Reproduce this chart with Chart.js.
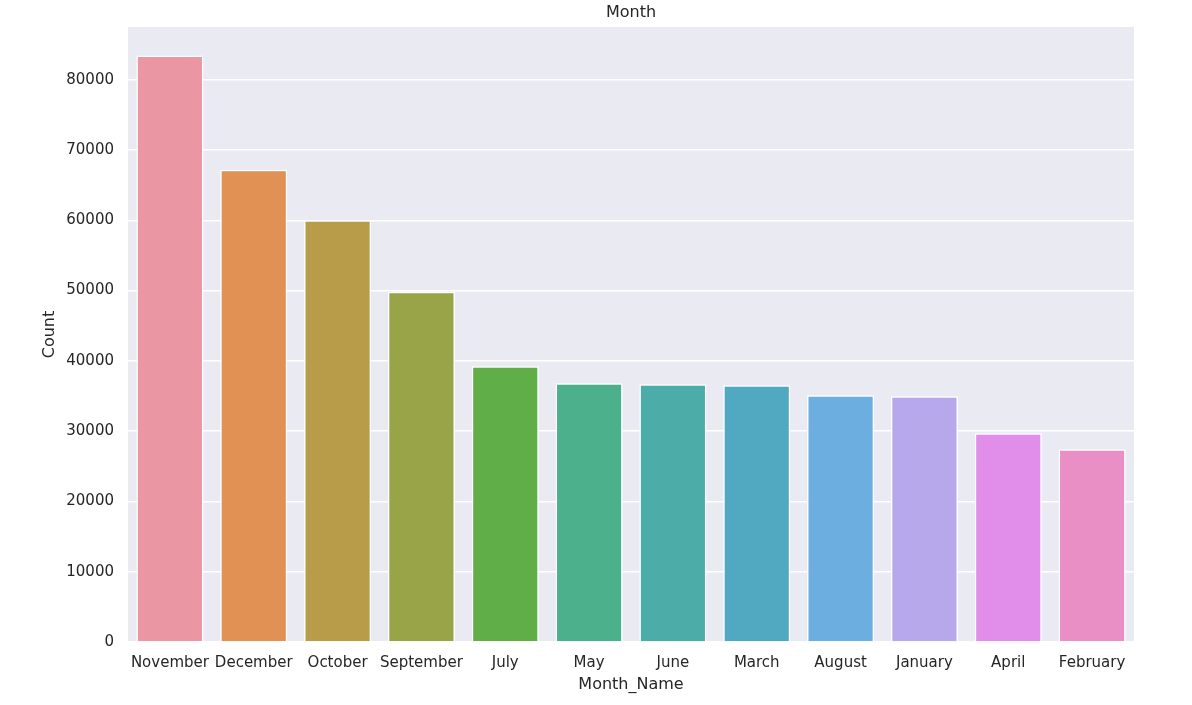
<!DOCTYPE html>
<html>
<head>
<meta charset="utf-8">
<script src="https://cdn.jsdelivr.net/npm/chart.js@4"></script>
<style>
html,body{margin:0;padding:0;background:#fff;}
#wrap{width:1192px;height:705px;}
</style>
</head>
<body>
<div id="wrap"><canvas id="c" width="1192" height="705"></canvas></div>
<script>
const categories = ["November","December","October","September","July","May","June","March","August","January","April","February"];
const counts = [83450, 67200, 60000, 49850, 39250, 36800, 36660, 36520, 35100, 34950, 29700, 27420];
const barColors = ["#ea96a3","#e19153","#b89c4a","#98a447","#5fae48","#4bb08b","#4cada8","#50a9c0","#6daee1","#b7a7eb","#e08eea","#e98fc6"];
const yTicks = [0,10000,20000,30000,40000,50000,60000,70000,80000];

const bgPlugin = {
  id: 'bg',
  beforeDraw(chart) {
    const {ctx, chartArea: a} = chart;
    ctx.save();
    ctx.fillStyle = '#fff';
    ctx.fillRect(0,0,chart.width,chart.height);
    ctx.fillStyle = '#eaeaf2';
    ctx.fillRect(a.left, a.top, a.right - a.left, a.bottom - a.top);
    ctx.restore();
  }
};

const font = "'DejaVu Sans', sans-serif";
new Chart(document.getElementById('c'), {
  type: 'bar',
  data: {
    labels: categories,
    datasets: [{
      data: counts,
      backgroundColor: barColors,
      borderColor: '#ffffff',
      borderWidth: 1.5,
      barPercentage: 0.8,
      categoryPercentage: 1.0,
      xAxisID: 'x',
      yAxisID: 'y'
    }]
  },
  options: {
    responsive: false,
    animation: false,
    devicePixelRatio: 1,
    layout: { padding: { left: 0, right: 58, top: 0, bottom: 0 } },
    plugins: {
      legend: { display: false },
      tooltip: { enabled: false },
      title: { display: false }
    },
    scales: {
      x: {
        grid: { display: false, drawTicks: false },
        border: { display: false },
        ticks: { color: '#262626', font: { family: font, size: 15 }, padding: 12, maxRotation: 0, autoSkip: false },
        title: { display: true, text: 'Month_Name', color: '#262626', font: { family: font, size: 16 }, padding: { top: 0, bottom: 11 } },
        afterFit(scale) { scale.height = 63; }
      },
      xTop: {
        type: 'category',
        position: 'top',
        labels: categories,
        grid: { display: false, drawTicks: false },
        border: { display: false },
        ticks: { display: false },
        title: { display: true, text: 'Month', color: '#262626', font: { family: font, size: 16 }, padding: { top: 3, bottom: 5 } },
        afterFit(scale) { scale.height = 27; }
      },
      y: {
        min: 0,
        max: 87500,
        grid: { color: '#ffffff', lineWidth: 1.5, drawTicks: false },
        border: { display: false },
        ticks: { color: '#262626', font: { family: font, size: 15 }, padding: 14, stepSize: 10000, callback: v => String(v) },
        afterBuildTicks(scale) { scale.ticks = yTicks.map(v => ({ value: v })); },
        title: { display: true, text: 'Count', color: '#262626', font: { family: font, size: 16 }, padding: { top: 40, bottom: 0 } },
        afterFit(scale) { scale.width = 128; }
      }
    }
  },
  plugins: [bgPlugin]
});
</script>
</body>
</html>
